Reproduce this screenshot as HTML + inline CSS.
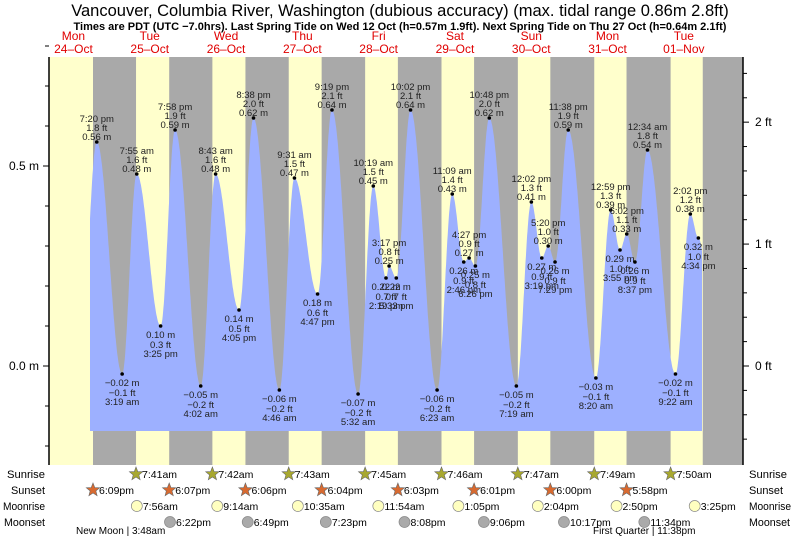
<!DOCTYPE html>
<html><head><meta charset="utf-8"><style>
html,body{margin:0;padding:0;background:#fff;}
svg{display:block;font-family:"Liberation Sans",sans-serif;}
</style></head><body>
<svg id="chart" width="793" height="539" viewBox="0 0 793 539" xmlns="http://www.w3.org/2000/svg">
<text x="400" y="16" text-anchor="middle" font-size="16.5" fill="#000">Vancouver, Columbia River, Washington (dubious accuracy) (max. tidal range 0.86m 2.8ft)</text>
<text x="400" y="30" text-anchor="middle" font-size="11" font-weight="bold" fill="#000">Times are PDT (UTC −7.0hrs). Last Spring Tide on Wed 12 Oct (h=0.57m 1.9ft). Next Spring Tide on Thu 27 Oct (h=0.64m 2.1ft)</text>
<g id="bands"></g>
<g id="tide"></g>
<g id="axes"></g>
<g id="labels"></g>
<g id="days"></g>
<g id="astro"></g>
</svg>
<script>
// Data (hours since Mon 24-Oct 00:00, metres)
const dayNames = ["Mon","Tue","Wed","Thu","Fri","Sat","Sun","Mon","Tue"];
const dayDates = ["24–Oct","25–Oct","26–Oct","27–Oct","28–Oct","29–Oct","30–Oct","31–Oct","01–Nov"];
const extremeTimes = ["7:20 pm","3:19 am","7:55 am","3:25 pm","7:58 pm","4:02 am","8:43 am","4:05 pm","8:38 pm","4:46 am","9:31 am","4:47 pm","9:19 pm","5:32 am","10:19 am","2:19 pm","3:17 pm","5:33 pm","10:02 pm","6:23 am","11:09 am","2:46 pm","4:27 pm","6:26 pm","10:48 pm","7:19 am","12:02 pm","3:19 pm","5:20 pm","7:29 pm","11:38 pm","8:20 am","12:59 pm","3:55 pm","6:02 pm","8:37 pm","12:34 am","9:22 am","2:02 pm","4:34 pm"];
const extremeDays = [0,1,1,1,1,2,2,2,2,3,3,3,3,4,4,4,4,4,4,5,5,5,5,5,5,6,6,6,6,6,6,7,7,7,7,7,8,8,8,8];
const extremeMeters = [0.56,-0.02,0.48,0.10,0.59,-0.05,0.48,0.14,0.62,-0.06,0.47,0.18,0.64,-0.07,0.45,0.22,0.25,0.22,0.64,-0.06,0.43,0.26,0.27,0.25,0.62,-0.05,0.41,0.27,0.30,0.26,0.59,-0.03,0.39,0.29,0.33,0.26,0.54,-0.02,0.38,0.32];
const extremeFeet = ["1.8","-0.1","1.6","0.3","1.9","-0.2","1.6","0.5","2.0","-0.2","1.5","0.6","2.1","-0.2","1.5","0.7","0.8","0.7","2.1","-0.2","1.4","0.9","0.9","0.8","2.0","-0.2","1.3","0.9","1.0","0.9","1.9","-0.1","1.3","1.0","1.1","0.9","1.8","-0.1","1.2","1.0"];
const sunrise = ["7:40am","7:41am","7:42am","7:43am","7:45am","7:46am","7:47am","7:49am","7:50am"];
const sunset = ["6:09pm","6:07pm","6:06pm","6:04pm","6:03pm","6:01pm","6:00pm","5:58pm","5:57pm"];
const moonrise = ["7:56am","9:14am","10:35am","11:54am","1:05pm","2:04pm","2:50pm","3:25pm"];
const moonset = ["6:22pm","6:49pm","7:23pm","8:08pm","9:06pm","10:17pm","11:34pm"];
const yTicksM = [-0.2,-0.1,0,0.1,0.2,0.3,0.4,0.5,0.6,0.7,0.8];
const yTicksFt = [-0.6,-0.4,-0.2,0,0.2,0.4,0.6,0.8,1,1.2,1.4,1.6,1.8,2,2.2,2.4];

const NS="http://www.w3.org/2000/svg";
const X0=35.3, PXH=76.3/24, Y0=366, PXM=400;
const PL=49, PR=743, PT=57, PB=465;
const xs=t=>X0+t*PXH, ys=m=>Y0-m*PXM;
function parseT(s,day){const m=s.replace(/\s/g,'').match(/(\d+):(\d+)(am|pm)/);let h=+m[1]%12;if(m[3]=='pm')h+=12;return day*24+h+(+m[2])/60;}
function el(tag,attrs,parent,txt){const e=document.createElementNS(NS,tag);for(const k in attrs)e.setAttribute(k,attrs[k]);if(txt!==undefined)e.textContent=txt;parent.appendChild(e);return e;}
const bands=document.getElementById('bands');
let r=el('rect',{x:PL,y:PT,width:PR-PL,height:PB-PT,fill:'#ffffcc'},bands);


for(let d=0;d<9;d++){
  const s=xs(parseT(sunset[d],d));
  const e=d<8?xs(parseT(sunrise[d+1],d+1)):PR;
  const n=el('rect',{x:s,y:PT,width:Math.min(e,PR)-s,height:PB-PT,fill:'#a9a9a9'},bands);
  
  
}
// tide curve
const ext=extremeTimes.map((s,i)=>({t:parseT(s,extremeDays[i]),m:extremeMeters[i]}));
const pts=[{t:14,m:0.0},...ext,{t:8*24+22,m:0.0}];
function val(t){for(let i=0;i<pts.length-1;i++){const a=pts[i],b=pts[i+1];if(t>=a.t&&t<=b.t){const f=(t-a.t)/(b.t-a.t);return a.m+(b.m-a.m)*(1-Math.cos(Math.PI*f))/2;}}return 0;}
const tStart=(90-X0)/PXH, tEnd=(702-X0)/PXH, yb=ys(-0.1625);
let d=`M${xs(tStart)},${yb}`;
for(let t=tStart;t<=tEnd;t+=0.1)d+=` L${xs(t).toFixed(1)},${ys(val(t)).toFixed(1)}`;
d+=` L${xs(tEnd)},${ys(val(tEnd)).toFixed(1)} L${xs(tEnd)},${yb} Z`;
const area=el('path',{d:d,fill:'#9db0ff'},document.getElementById('tide'));


// labels
const lab=document.getElementById('labels');
ext.forEach((p,i)=>{
  const x=xs(p.t),y=ys(p.m);
  const c=el('circle',{cx:x,cy:y,r:1.8,fill:'#000'},lab);
  
  
  const hi=(i===0)||(p.m>(extremeMeters[i-1]??0));
  const lines=hi?[[extremeTimes[i],y-20],[extremeFeet[i]+' ft',y-11],[p.m.toFixed(2)+' m',y-2]]
                :[[p.m.toFixed(2).replace('-','−')+' m',y+12],[extremeFeet[i].replace('-','−')+' ft',y+22],[extremeTimes[i],y+31]];
  lines.forEach(([s,yy])=>{const t=el('text',{x:x,y:yy,'text-anchor':'middle','font-size':9.5,fill:'#222'},lab,s);
    
    });
});
// axes
const ax=document.getElementById('axes');
el('line',{x1:PL,y1:PT,x2:PL,y2:PB,stroke:'#000','stroke-width':1.5},ax);
el('line',{x1:PR,y1:PT,x2:PR,y2:PB,stroke:'#000','stroke-width':1.5},ax);
yTicksM.forEach(m=>{const y=ys(m);const maj=Math.abs(m*2-Math.round(m*2))<1e-6;
  el('line',{x1:PL-(maj?6:4),y1:y,x2:PL,y2:y,stroke:'#000'},ax);
  if(maj){const t=el('text',{x:PL-10,y:y+4,'text-anchor':'end','font-size':12},ax,m.toFixed(1)+' m');
    
    }});
yTicksFt.forEach(f=>{const y=ys(f*0.3048);const maj=Math.abs(f-Math.round(f))<1e-6;
  el('line',{x1:PR,y1:y,x2:PR+(maj?6:4),y2:y,stroke:'#000'},ax);
  if(maj){const t=el('text',{x:PR+12,y:y+4,'font-size':12},ax,f+' ft');
    
    }});
// day labels
const dl=document.getElementById('days');
dayNames.forEach((n,i)=>{const x=xs(i*24+12);
  const a=el('text',{x:x,y:40,'text-anchor':'middle','font-size':12,fill:'#e00000'},dl,n);
  
  
  const b=el('text',{x:x,y:53,'text-anchor':'middle','font-size':12,fill:'#e00000'},dl,dayDates[i]);
  
  });
// astro rows
const as=document.getElementById('astro');
const rows=[["Sunrise",478,38],["Sunset",494,34],["Moonrise",510,42],["Moonset",526,41]];
rows.forEach(([n,y,w])=>{
  const a=el('text',{x:45-w,y:y,'font-size':11,textLength:w,lengthAdjust:'spacingAndGlyphs'},as,n);
  
  
  const b=el('text',{x:749,y:y,'font-size':11,textLength:w,lengthAdjust:'spacingAndGlyphs'},as,n);
  
  });
function star(cx,cy,fill){let p='';for(let k=0;k<10;k++){const a=-Math.PI/2+k*Math.PI/5,rr=k%2?3:7;p+=(cx+rr*Math.cos(a)).toFixed(1)+','+(cy+rr*Math.sin(a)).toFixed(1)+' ';}return el('polygon',{points:p,fill:fill,stroke:'#666','stroke-width':0.6},as);}
function item(t,y,s,kind,name){const x=xs(t);
  const ic=kind=='sr'?star(x,y-4,'#a8a830'):kind=='ss'?star(x,y-4,'#d86a30'):el('circle',{cx:x,cy:y-4,r:5.5,fill:kind=='mr'?'#ffffc0':'#aaaaaa',stroke:'#888','stroke-width':0.7},as);
  
  
  const tx=el('text',{x:x+6,y:y,'font-size':10.5},as,s);
  
  }
for(let i=1;i<9;i++)item(parseT(sunrise[i],i),478,sunrise[i],'sr','sunrise');
for(let i=0;i<8;i++)item(parseT(sunset[i],i),494,sunset[i],'ss','sunset');
moonrise.forEach((s,i)=>item(parseT(s,i+1),510,s,'mr','moonrise'));
moonset.forEach((s,i)=>item(parseT(s,i+1),526,s,'ms','moonset'));
const nm=el('text',{x:76,y:534,'font-size':10},as,'New Moon | 3:48am');


const fq=el('text',{x:593,y:534,'font-size':10},as,'First Quarter | 11:38pm');


</script>
</body></html>
